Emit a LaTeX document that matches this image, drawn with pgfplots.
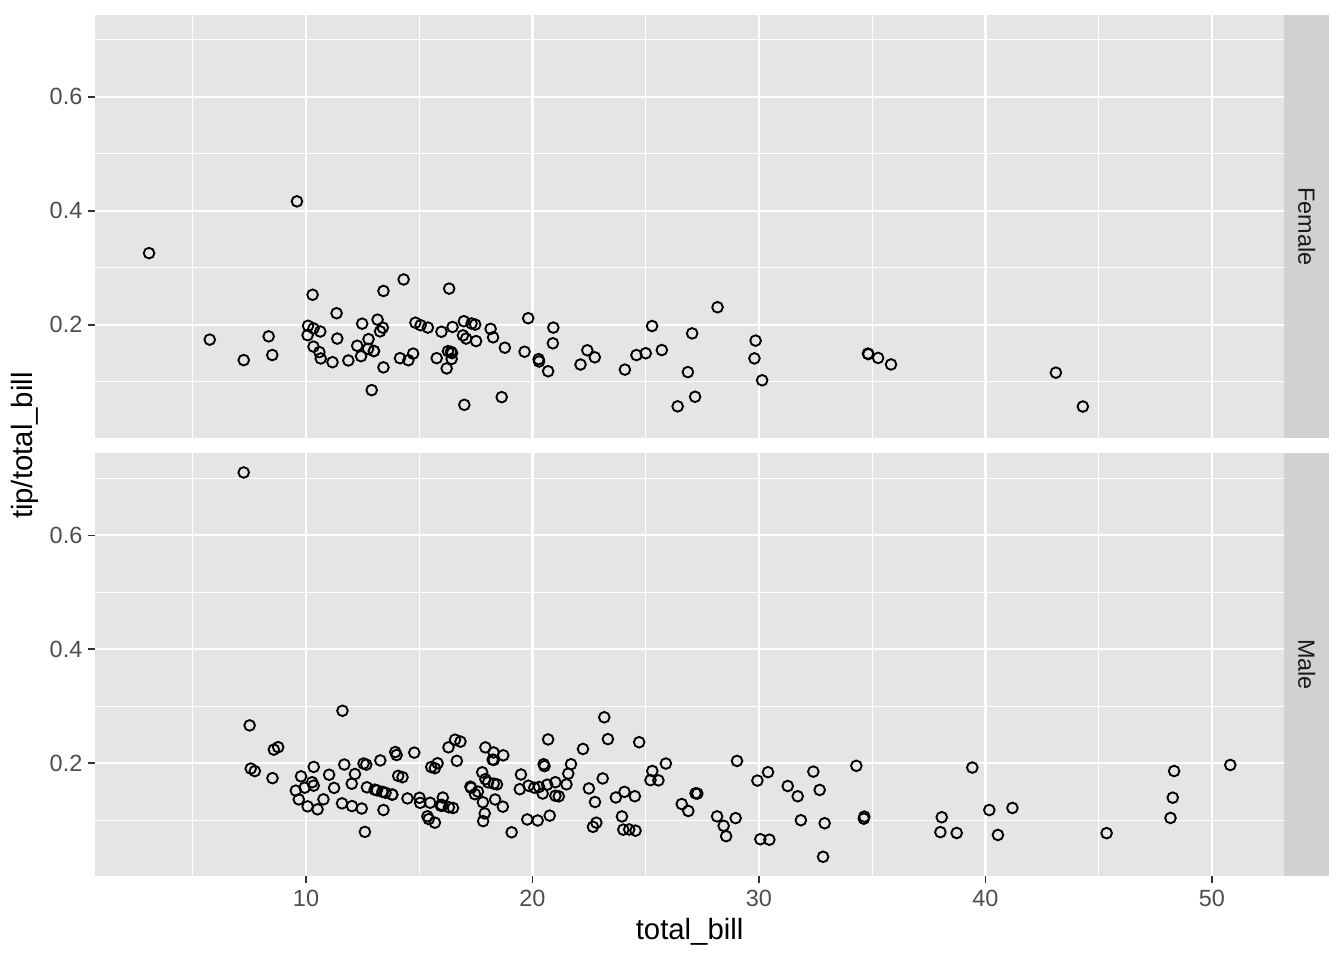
\documentclass[border=0pt]{standalone}
\usepackage{fontspec}
\setmainfont{Liberation Sans}
\usepackage{pgfplots}
\usepackage{pgfplotstable}
\pgfplotsset{compat=1.18}

\definecolor{panelbg}{HTML}{E5E5E5}
\definecolor{stripbg}{HTML}{D1D1D1}
\definecolor{ticktext}{HTML}{4D4D4D}
\definecolor{tickline}{HTML}{333333}
\definecolor{striptext}{HTML}{1A1A1A}

% tips data, one table per facet
\pgfplotstableread{
bill tip
16.99 1.01
24.59 3.61
35.26 5.0
14.83 3.02
10.33 1.67
16.97 3.5
20.29 2.75
15.77 2.23
19.65 3.0
15.06 3.0
20.69 2.45
16.93 3.07
10.29 2.6
34.81 5.2
26.41 1.5
16.45 2.47
3.07 1.0
17.07 3.0
26.86 3.14
25.28 5.0
14.73 2.2
10.07 1.83
34.83 5.17
5.75 1.0
16.32 4.3
22.75 3.25
11.35 2.5
15.38 3.0
44.3 2.5
22.42 3.48
20.92 4.08
14.31 4.0
7.25 1.0
25.71 4.0
17.31 3.5
10.65 1.5
12.43 1.8
24.08 2.92
13.42 1.68
12.48 2.52
29.8 4.2
14.52 2.0
11.38 2.0
20.27 2.83
11.17 1.5
12.26 2.0
18.26 3.25
8.51 1.25
10.33 2.0
14.15 2.0
13.16 2.75
17.47 3.5
27.05 5.0
16.43 2.3
8.35 1.5
18.64 1.36
11.87 1.63
29.85 5.14
25.0 3.75
13.39 2.61
16.21 2.0
17.51 3.0
10.59 1.61
10.63 2.0
9.6 4.0
20.9 3.5
18.15 3.5
19.81 4.19
43.11 5.0
13.0 2.0
12.74 2.01
13.0 2.0
16.4 2.5
16.47 3.23
12.76 2.23
13.27 2.5
28.17 6.5
12.9 1.1
30.14 3.09
13.42 3.48
15.98 3.0
16.27 2.5
10.09 2.0
22.12 2.88
35.83 4.67
27.18 2.0
18.78 3.0
}\female

\pgfplotstableread{
bill tip
10.34 1.66
21.01 3.5
23.68 3.31
25.29 4.71
8.77 2.0
26.88 3.12
15.04 1.96
14.78 3.23
10.27 1.71
15.42 1.57
18.43 3.0
21.58 3.92
16.29 3.71
20.65 3.35
17.92 4.08
39.42 7.58
19.82 3.18
17.81 2.34
13.37 2.0
12.69 2.0
21.7 4.3
9.55 1.45
18.35 2.5
17.78 3.27
24.06 3.6
16.31 2.0
18.69 2.31
31.27 5.0
16.04 2.24
17.46 2.54
13.94 3.06
9.68 1.32
30.4 5.6
18.29 3.0
22.23 5.0
32.4 6.0
28.55 2.05
18.04 3.0
12.54 2.5
9.94 1.56
25.56 4.34
19.49 3.51
38.01 3.0
11.24 1.76
48.27 6.73
20.29 3.21
13.81 2.0
11.02 1.98
18.29 3.76
17.59 2.64
20.08 3.15
20.23 2.01
15.01 2.09
12.02 1.97
10.51 1.25
17.92 3.08
27.2 4.0
22.76 3.0
17.29 2.71
19.44 3.0
16.66 3.4
32.68 5.0
15.98 2.03
13.03 2.0
18.28 4.0
24.71 5.85
21.16 3.0
28.97 3.0
22.49 3.5
40.17 4.73
27.28 4.0
12.03 1.5
21.01 3.0
12.46 1.5
15.36 1.64
20.49 4.06
25.21 4.29
18.24 3.76
14.0 3.0
38.07 4.0
23.95 2.55
29.93 5.07
11.69 2.31
14.26 2.5
15.95 2.0
8.52 1.48
22.82 2.18
19.08 1.5
16.0 2.0
34.3 6.7
41.19 5.0
9.78 1.73
7.51 2.0
14.07 2.5
13.13 2.0
17.26 2.74
24.55 2.0
19.77 2.0
48.17 5.0
16.49 2.0
21.5 3.5
12.66 2.5
13.81 2.0
24.52 3.48
20.76 2.24
31.71 4.5
50.81 10.0
15.81 3.16
7.25 5.15
31.85 3.18
16.82 4.0
32.9 3.11
17.89 2.0
14.48 2.0
34.63 3.55
34.65 3.68
23.33 5.65
45.35 3.5
23.17 6.5
40.55 3.0
20.69 5.0
30.46 2.0
23.1 4.0
15.69 1.5
28.44 2.56
15.48 2.02
16.58 4.0
7.56 1.44
10.34 2.0
13.51 2.0
18.71 4.0
20.53 4.0
26.59 3.41
38.73 3.0
24.27 2.03
30.06 2.0
25.89 5.16
48.33 9.0
28.15 3.0
11.59 1.5
7.74 1.44
12.16 2.2
8.58 1.92
13.42 1.58
20.45 3.0
13.28 2.72
24.01 2.0
15.69 3.0
11.61 3.39
10.77 1.47
15.53 3.0
10.07 1.25
12.6 1.0
32.83 1.17
29.03 5.92
22.67 2.0
17.82 1.75
}\male

\pgfplotsset{
  facet/.style={
    scale only axis, width=446pt, height=158.5pt,
    xmin=0.683, xmax=53.197, ymin=0.0019, ymax=0.7439,
    axis background/.style={fill=panelbg},
    axis line style={draw=none},
    grid=both,
    major grid style={white, line width=0.8pt},
    minor grid style={white, line width=0.4pt},
    xtick={10,20,30,40,50}, ytick={0.2,0.4,0.6},
    minor xtick={5,15,25,35,45}, minor ytick={0.1,0.3,0.5,0.7},
    tick align=outside, major tick length=2.75pt, minor tick length=0pt,
    xtick pos=bottom, ytick pos=left,
    tick style={tickline, line width=0.6pt},
    ticklabel style={font=\fontsize{8.8}{10}\selectfont, text=ticktext},
    /pgf/number format/assume math mode=true,
    yticklabel style={inner sep=0pt, xshift=-1.8pt,
      /pgf/number format/fixed, /pgf/number format/fixed zerofill,
      /pgf/number format/precision=1},
    xticklabel style={inner sep=0pt, yshift=-2.2pt},
    scaled y ticks=false,
  },
  pts/.style={only marks, mark=o, mark size=2pt,
    mark options={black, line width=0.7pt}},
}

\begin{document}
\begin{tikzpicture}
\path[use as bounding box] (0,0) rectangle (504pt,360pt);

\begin{axis}[facet, name=top, at={(35.625pt,195.9pt)}, anchor=south west,
  xticklabels={}, xtick style={draw=none}]
  \addplot[pts] table[x=bill, y expr=\thisrow{tip}/\thisrow{bill}] {\female};
\end{axis}

\begin{axis}[facet, name=bot, at={(35.625pt,31.5pt)}, anchor=south west]
  \addplot[pts] table[x=bill, y expr=\thisrow{tip}/\thisrow{bill}] {\male};
\end{axis}

% facet strips
\fill[stripbg] (481.625pt,195.9pt) rectangle (498.4pt,354.4pt);
\fill[stripbg] (481.625pt,31.5pt) rectangle (498.4pt,190.1pt);
\node[rotate=-90, text=striptext, font=\fontsize{8.8}{10}\selectfont]
  at (490pt,275.15pt) {Female};
\node[rotate=-90, text=striptext, font=\fontsize{8.8}{10}\selectfont]
  at (490pt,110.8pt) {Male};

% axis titles
\node[font=\fontsize{11}{13}\selectfont] at (258.6pt,10.5pt) {total\_bill};
\node[rotate=90, font=\fontsize{11}{13}\selectfont] at (9.4pt,192.9pt) {tip/total\_bill};
\end{tikzpicture}
\end{document}
